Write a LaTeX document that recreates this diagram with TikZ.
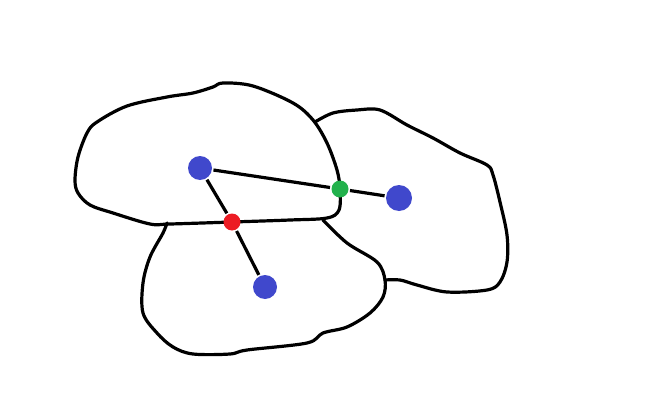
\documentclass[tikz,border=0pt]{standalone}
\usepackage{tikz}
\definecolor{vblue}{RGB}{64,72,204}
\definecolor{cred}{RGB}{236,28,36}
\definecolor{cgreen}{RGB}{34,177,76}

\begin{document}
\begin{tikzpicture}[x=1pt,y=-1pt,line width=3.2pt,
  blob/.style={draw=black,line cap=round,line join=round},
  vtx/.style={circle,fill=vblue,inner sep=0pt,minimum size=24pt},
  cut/.style={circle,inner sep=0pt,minimum size=17pt}]
\useasboundingbox (0,0) rectangle (664,404);
% outlines
\draw[blob] plot[smooth cycle,tension=0.55] coordinates {(223,83) (253,86) (293,103) (313,120) (327,143) (337,170) (340,189) (339,210) (327,218) (290,220) (232,222) (170,224) (150,224) (113,213) (90,205) (78,193) (75,180) (78,157) (87,133) (97,122) (127,106) (167,97) (193,93) (213,87)};
\draw[blob] plot[smooth,tension=0.55] coordinates {(315,122) (333,113) (357,110) (380,110) (407,125) (433,138) (460,153) (487,165) (493,175) (500,202) (507,235) (507,262) (500,282) (487,290) (447,292) (417,285) (400,280) (385,280)};
\draw[blob] plot[smooth,tension=0.55] coordinates {(167,223) (163,233) (150,257) (143,283) (143,313) (157,333) (173,347) (193,354) (230,354) (247,350) (307,343) (323,333) (347,327) (370,313) (383,297) (385,280) (377,262) (347,243) (323,220)};
% vertices
\node[vtx] (u) at (200,168) {};
\node[vtx,minimum size=26pt] (v) at (399,198) {};
\node[vtx] (w) at (265,287) {};
\node[cut,fill=cred] (r) at (232,222) {};
\node[cut,fill=cgreen] (g) at (340,189) {};
\draw (u) -- (g) -- (v);
\draw (u) -- (r) -- (w);
\end{tikzpicture}
\end{document}
